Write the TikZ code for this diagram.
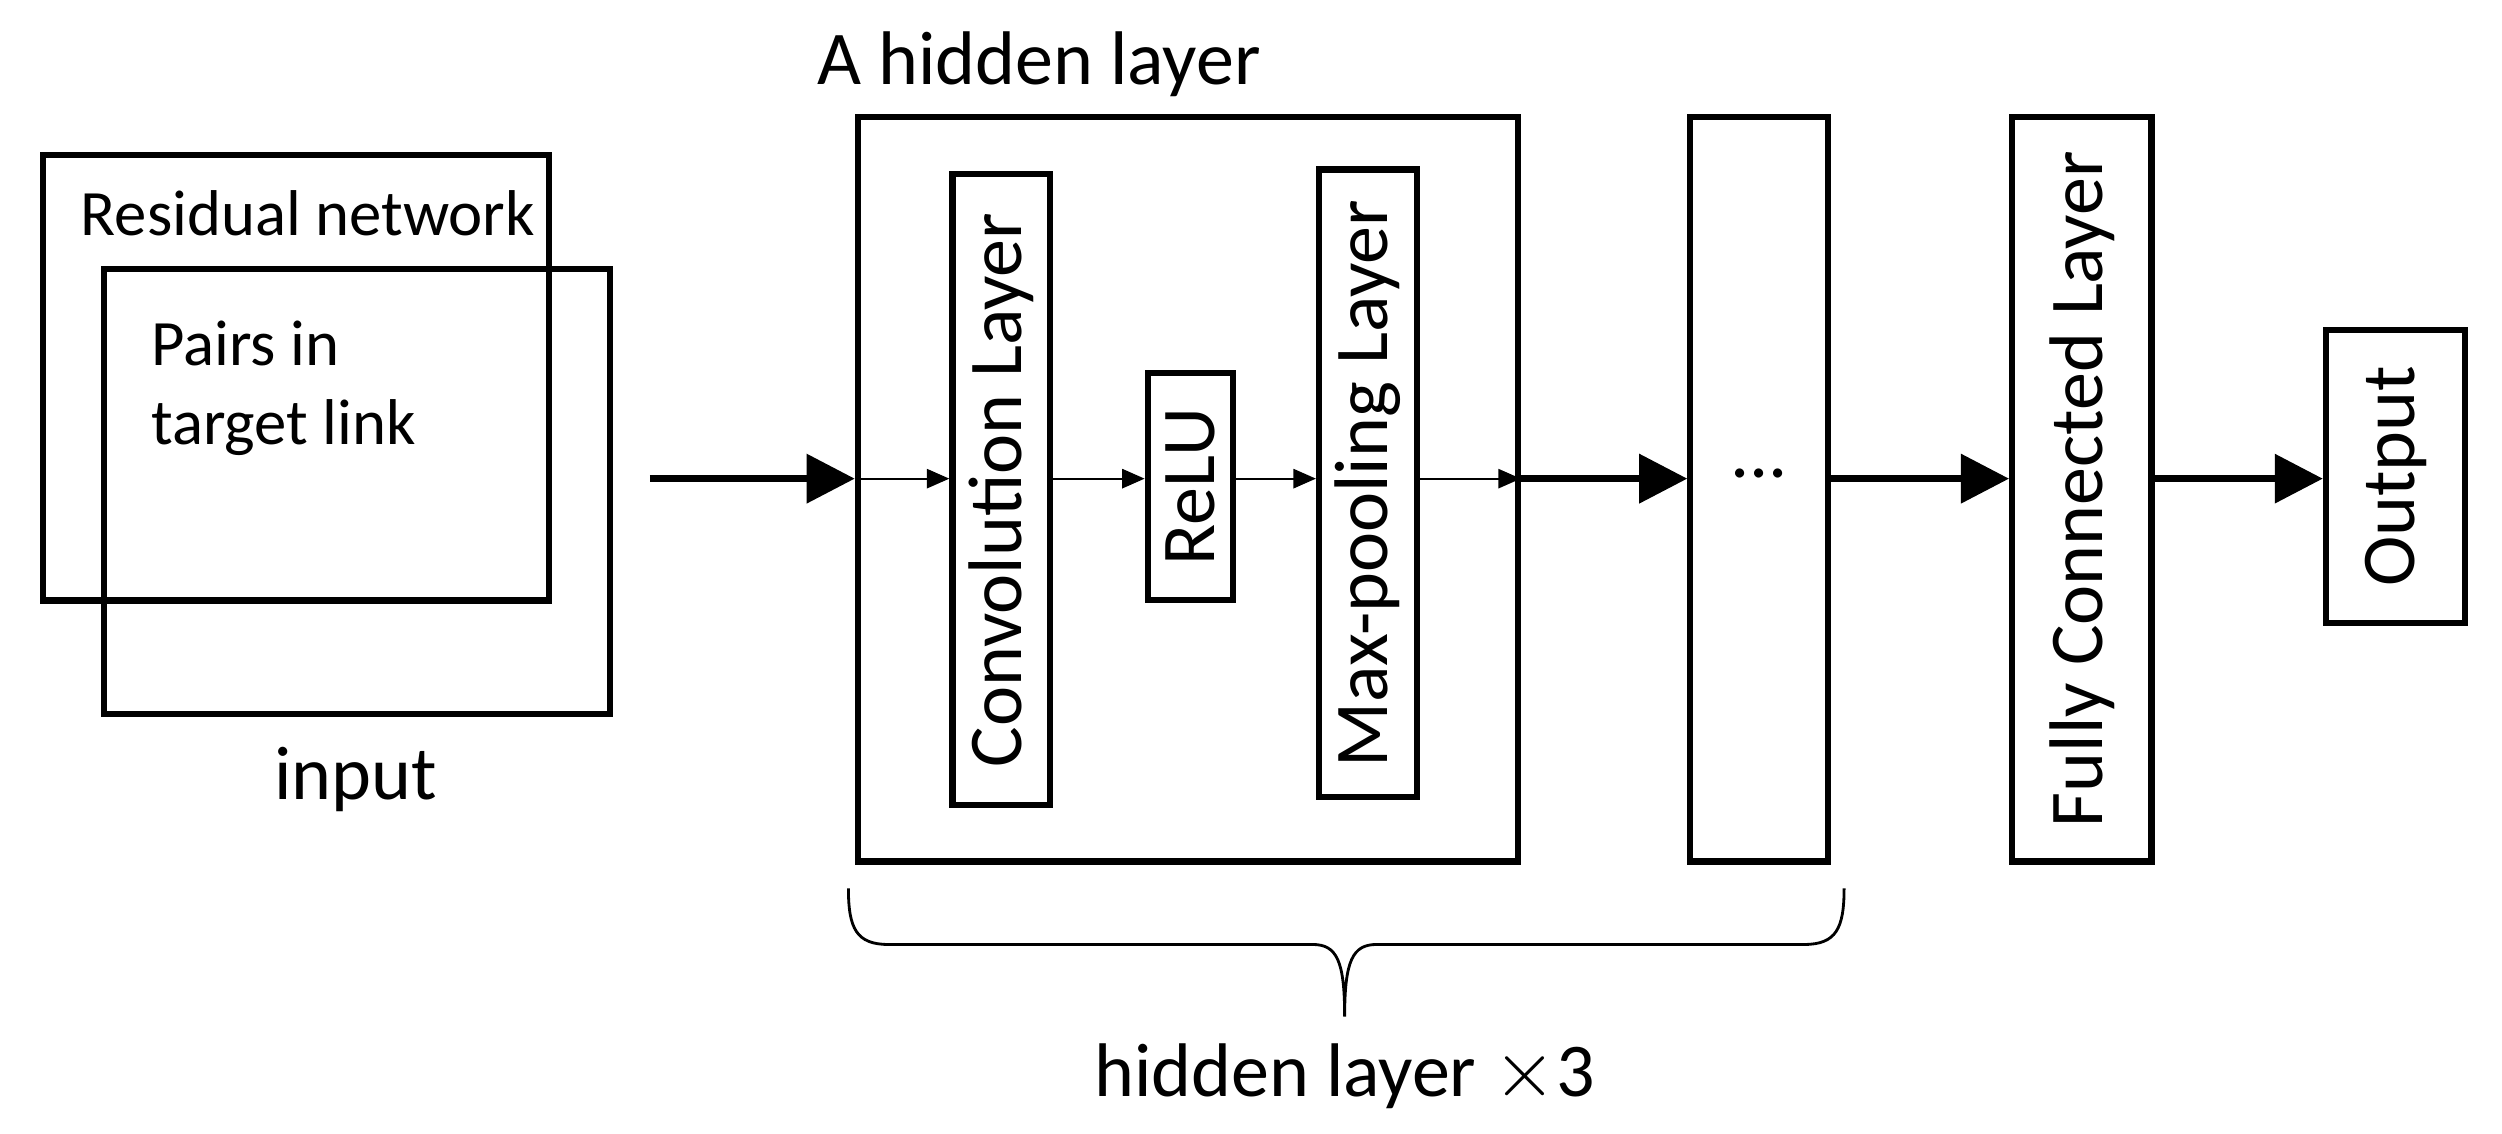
\documentclass[tikz,border=0pt]{standalone}
\usepackage{fontspec}
\setmainfont{Carlito}
\usetikzlibrary{arrows.meta}
\begin{document}
\begin{tikzpicture}[x=0.01cm,y=-0.01cm,
  box/.style={draw,line width=1.1pt,inner sep=0pt},
  big/.style={font=\fontsize{13.5}{15}\selectfont},
  small/.style={font=\fontsize{11.5}{14}\selectfont},
  thick arr/.style={line width=1.2pt,-{Triangle[length=3mm,width=3mm]}},
  thin arr/.style={line width=0.35pt,-{Triangle[length=1.4mm,width=1.2mm]}}]
\useasboundingbox (0,0) rectangle (1563,708);
\node[box,minimum width=3.16cm,minimum height=2.78cm] (res) at (185,236) {};
\node[box,minimum width=3.16cm,minimum height=2.78cm] (pairs) at (223,307) {};
\node[small,anchor=west] (rest) at (38,133) {Residual network};
\node[small,anchor=north west,align=left] (pt) at (82,188) {Pairs in\\target link};
\node[big] (inp) at (222,487) {input};
\node[big,anchor=west] (hl) at (498,40) {A hidden layer};
\node[box,minimum width=4.12cm,minimum height=4.65cm] (hid) at (742,305.5) {};
\node[box,minimum width=0.61cm,minimum height=3.94cm] (conv) at (625.5,306) {};
\node[big,rotate=90] at (conv) {Convolution Layer};
\node[box,minimum width=0.53cm,minimum height=1.42cm] (relu) at (743.5,304) {};
\node[big,rotate=90] at (relu) {ReLU};
\node[box,minimum width=0.61cm,minimum height=3.92cm] (max) at (854.5,302) {};
\node[big,rotate=90] at (max) {Max-pooling Layer};
\node[box,minimum width=0.86cm,minimum height=4.65cm] (dots) at (1099,305.5) {};
\node[big] at (1099,296) {...};
\node[box,minimum width=0.87cm,minimum height=4.65cm] (fc) at (1300.5,305.5) {};
\node[big,rotate=90] at (fc) {Fully Connected Layer};
\node[box,minimum width=0.87cm,minimum height=1.83cm] (out) at (1496.5,297.5) {};
\node[big,rotate=90] at (out) {Output};
\coordinate (start) at (406,299);
\draw[thick arr] (start) -- (hid.west |- start);
\draw[thin arr] (hid.west |- start) -- (conv.west |- start);
\draw[thin arr] (conv.east |- start) -- (relu.west |- start);
\draw[thin arr] (relu.east |- start) -- (max.west |- start);
\draw[thin arr] (max.east |- start) -- (hid.east |- start);
\draw[thick arr] (hid.east |- start) -- (dots.west |- start);
\draw[thick arr] (dots.east |- start) -- (fc.west |- start);
\draw[thick arr] (fc.east |- start) -- (out.west |- start);
\draw[line width=0.5pt] (530,555) .. controls (530,580) and (535,590) .. (555,590) -- (820,590)
  .. controls (835,590) and (840,600) .. (840,635)
  .. controls (840,600) and (845,590) .. (860,590) -- (1127,590)
  .. controls (1147,590) and (1152,580) .. (1152,555);
\node[big] (hl3) at (840,672) {hidden layer $\times$3};
\end{tikzpicture}
\end{document}
